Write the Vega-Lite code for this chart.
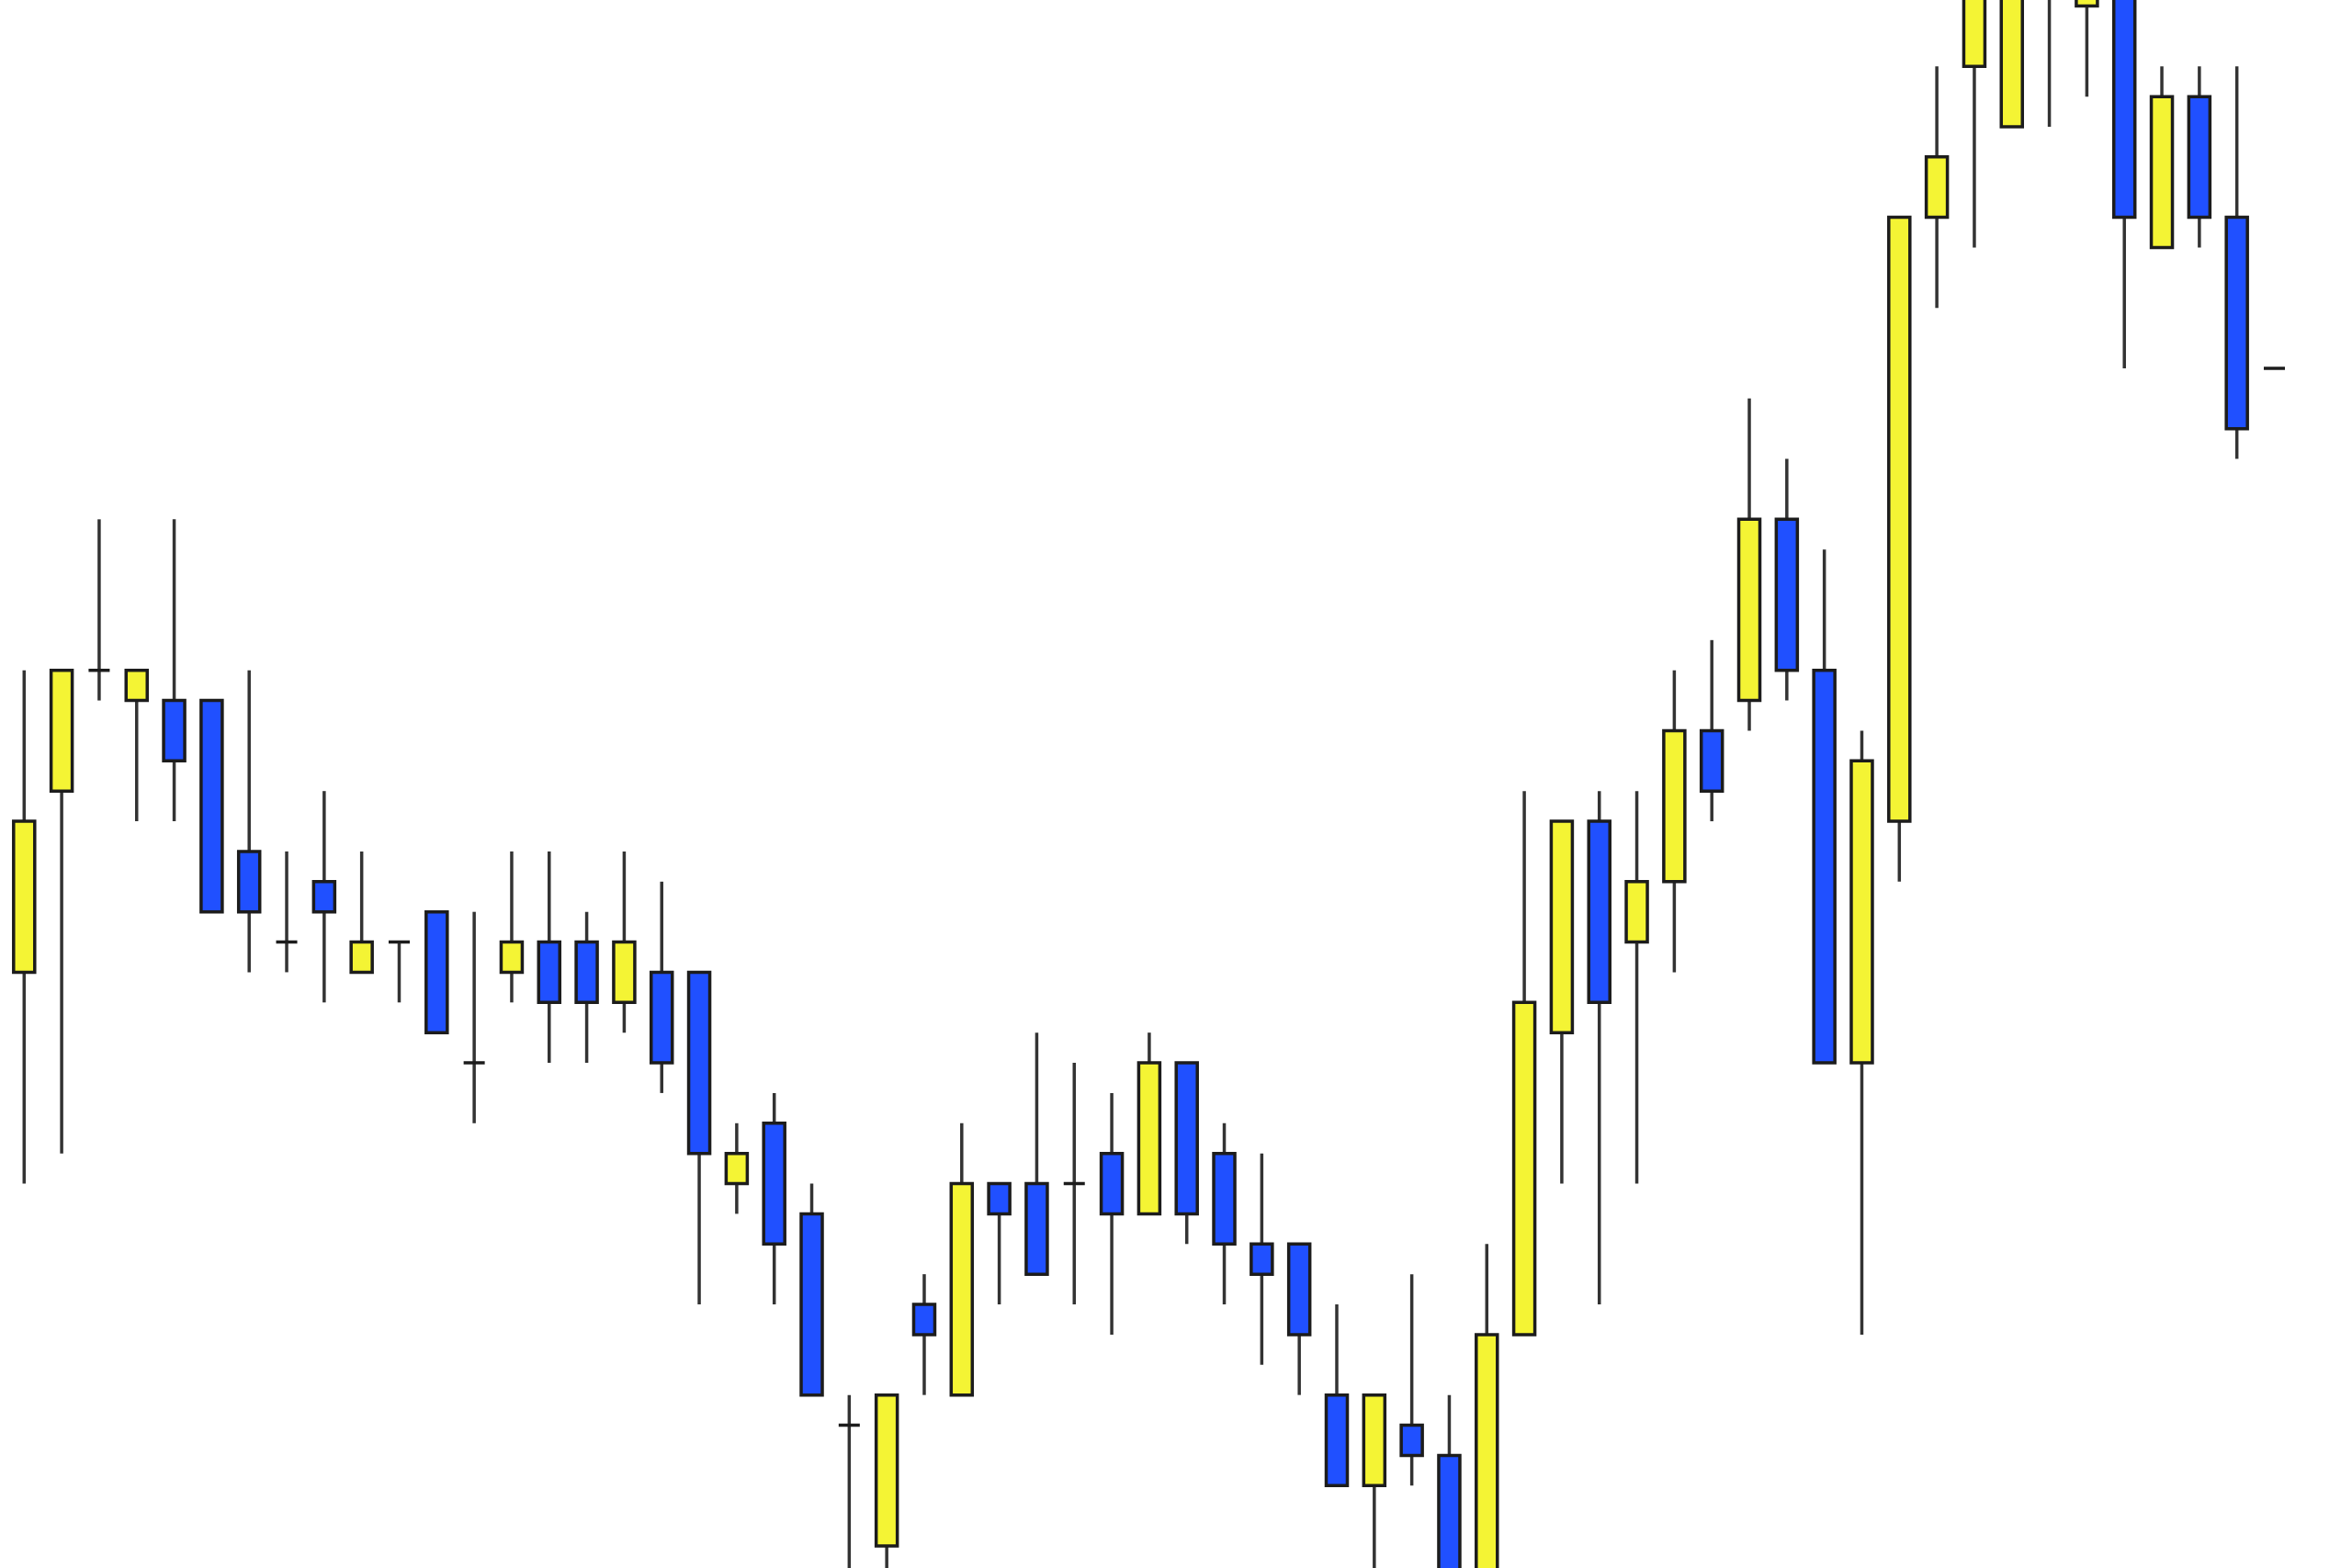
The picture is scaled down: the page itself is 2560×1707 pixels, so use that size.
{
  "$schema": "https://vega.github.io/schema/vega-lite/v6.json",
  "width": 2560,
  "height": 1707,
  "autosize": {"type": "fit", "contains": "padding"},
  "padding": 0,
  "background": "#ffffff",
  "config": {"view": {"stroke": null}},
  "data": {
    "values": [
      {"i": 0, "open": 28, "high": 38, "low": 21, "close": 33},
      {"i": 1, "open": 34, "high": 38, "low": 22, "close": 38},
      {"i": 2, "open": 38, "high": 43, "low": 37, "close": 38},
      {"i": 3, "open": 37, "high": 38, "low": 33, "close": 38},
      {"i": 4, "open": 37, "high": 43, "low": 33, "close": 35},
      {"i": 5, "open": 37, "high": 37, "low": 30, "close": 30},
      {"i": 6, "open": 32, "high": 38, "low": 28, "close": 30},
      {"i": 7, "open": 29, "high": 32, "low": 28, "close": 29},
      {"i": 8, "open": 31, "high": 34, "low": 27, "close": 30},
      {"i": 9, "open": 28, "high": 32, "low": 28, "close": 29},
      {"i": 10, "open": 29, "high": 29, "low": 27, "close": 29},
      {"i": 11, "open": 30, "high": 30, "low": 26, "close": 26},
      {"i": 12, "open": 25, "high": 30, "low": 23, "close": 25},
      {"i": 13, "open": 28, "high": 32, "low": 27, "close": 29},
      {"i": 14, "open": 29, "high": 32, "low": 25, "close": 27},
      {"i": 15, "open": 29, "high": 30, "low": 25, "close": 27},
      {"i": 16, "open": 27, "high": 32, "low": 26, "close": 29},
      {"i": 17, "open": 28, "high": 31, "low": 24, "close": 25},
      {"i": 18, "open": 28, "high": 28, "low": 17, "close": 22},
      {"i": 19, "open": 21, "high": 23, "low": 20, "close": 22},
      {"i": 20, "open": 23, "high": 24, "low": 17, "close": 19},
      {"i": 21, "open": 20, "high": 21, "low": 14, "close": 14},
      {"i": 22, "open": 13, "high": 14, "low": 7, "close": 13},
      {"i": 23, "open": 9, "high": 14, "low": 7, "close": 14},
      {"i": 24, "open": 17, "high": 18, "low": 14, "close": 16},
      {"i": 25, "open": 14, "high": 23, "low": 14, "close": 21},
      {"i": 26, "open": 21, "high": 21, "low": 17, "close": 20},
      {"i": 27, "open": 21, "high": 26, "low": 18, "close": 18},
      {"i": 28, "open": 21, "high": 25, "low": 17, "close": 21},
      {"i": 29, "open": 22, "high": 24, "low": 16, "close": 20},
      {"i": 30, "open": 20, "high": 26, "low": 20, "close": 25},
      {"i": 31, "open": 25, "high": 25, "low": 19, "close": 20},
      {"i": 32, "open": 22, "high": 23, "low": 17, "close": 19},
      {"i": 33, "open": 19, "high": 22, "low": 15, "close": 18},
      {"i": 34, "open": 19, "high": 19, "low": 14, "close": 16},
      {"i": 35, "open": 14, "high": 17, "low": 11, "close": 11},
      {"i": 36, "open": 11, "high": 14, "low": 7, "close": 14},
      {"i": 37, "open": 13, "high": 18, "low": 11, "close": 12},
      {"i": 38, "open": 12, "high": 14, "low": 6, "close": 7},
      {"i": 39, "open": 7, "high": 19, "low": 6, "close": 16},
      {"i": 40, "open": 16, "high": 34, "low": 16, "close": 27},
      {"i": 41, "open": 26, "high": 33, "low": 21, "close": 33},
      {"i": 42, "open": 33, "high": 34, "low": 17, "close": 27},
      {"i": 43, "open": 29, "high": 34, "low": 21, "close": 31},
      {"i": 44, "open": 31, "high": 38, "low": 28, "close": 36},
      {"i": 45, "open": 36, "high": 39, "low": 33, "close": 34},
      {"i": 46, "open": 37, "high": 47, "low": 36, "close": 43},
      {"i": 47, "open": 43, "high": 45, "low": 37, "close": 38},
      {"i": 48, "open": 38, "high": 42, "low": 25, "close": 25},
      {"i": 49, "open": 25, "high": 36, "low": 16, "close": 35},
      {"i": 50, "open": 33, "high": 53, "low": 31, "close": 53},
      {"i": 51, "open": 53, "high": 58, "low": 50, "close": 55},
      {"i": 52, "open": 58, "high": 62, "low": 52, "close": 61},
      {"i": 53, "open": 56, "high": 62, "low": 56, "close": 61},
      {"i": 54, "open": 61, "high": 64, "low": 56, "close": 63},
      {"i": 55, "open": 60, "high": 63, "low": 57, "close": 62},
      {"i": 56, "open": 61, "high": 62, "low": 48, "close": 53},
      {"i": 57, "open": 52, "high": 58, "low": 52, "close": 57},
      {"i": 58, "open": 57, "high": 58, "low": 52, "close": 53},
      {"i": 59, "open": 53, "high": 58, "low": 45, "close": 46},
      {"i": 60, "open": 48, "high": 48, "low": 48, "close": 48}
    ]
  },
  "encoding": {
    "x": {
      "field": "i",
      "type": "quantitative",
      "scale": {"domain": [-0.644, 62.07], "nice": false, "zero": false, "padding": 0},
      "axis": null
    }
  },
  "layer": [
    {
      "mark": {"type": "rule", "color": "#333333", "strokeWidth": 3.5, "clip": true},
      "encoding": {
        "y": {
          "field": "low",
          "type": "quantitative",
          "scale": {"domain": [8.27, 60.198], "nice": false, "zero": false},
          "axis": null
        },
        "y2": {"field": "high"}
      }
    },
    {
      "mark": {"type": "bar", "size": 23, "stroke": "#1c1c1c", "strokeWidth": 3.5, "clip": true},
      "encoding": {
        "y": {"field": "open", "type": "quantitative"},
        "y2": {"field": "close"},
        "fill": {
          "condition": {"test": "datum.close >= datum.open", "value": "#F4F434"},
          "value": "#2050FF"
        }
      }
    }
  ]
}
